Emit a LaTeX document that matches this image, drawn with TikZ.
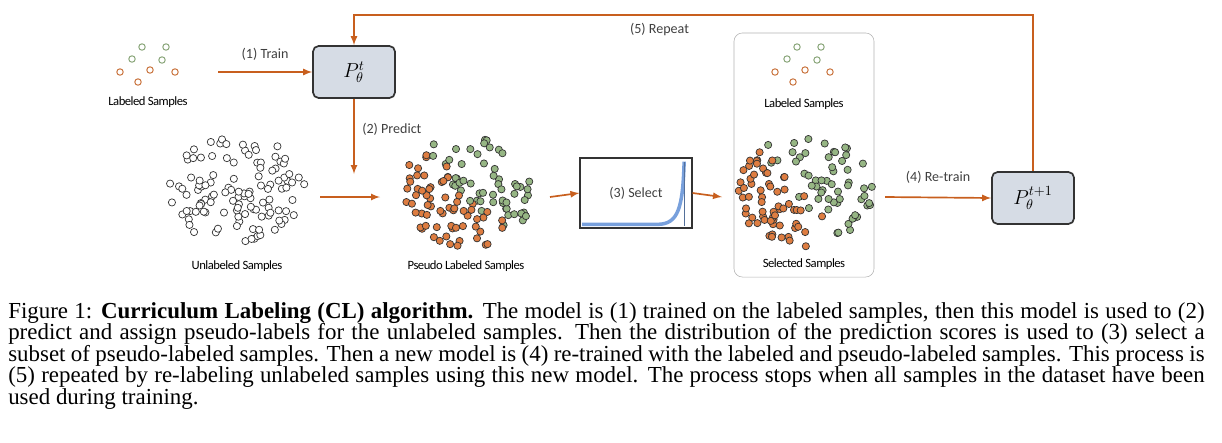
\documentclass[tikz,border=0pt]{standalone}
\usepackage{fontspec}
\setmainfont{Liberation Serif}
\newfontfamily\labelfont{Carlito}
\usetikzlibrary{positioning}
\definecolor{flow}{RGB}{200,95,30}
\definecolor{dotorange}{RGB}{222,125,65}
\definecolor{dotgreen}{RGB}{150,182,132}
\definecolor{modelfill}{RGB}{214,220,229}
\definecolor{curveblue}{RGB}{120,160,220}
\tikzset{
  flowarrow/.style={->, >=latex, very thick, draw=flow},
  model/.style={draw=black!80, very thick, rounded corners=4pt, fill=modelfill, minimum width=2.05cm, minimum height=1.3cm, font=\Large},
  steplabel/.style={font=\labelfont\normalsize, text=black!75},
  setlabel/.style={font=\labelfont\small\addfontfeatures{LetterSpace=-4}},
  dot/.style={draw=black!80, line width=0.5pt, fill=#1},
}
% scattered sample cloud: centre x, centre y, radius x, radius y, count, mode (0 white, 1 split)
\newcommand{\samplecloud}[6]{%
  \foreach \k in {1,...,#5}{%
    \pgfmathsetmacro{\ang}{rnd*360}%
    \pgfmathsetmacro{\rad}{sqrt(rnd)}%
    \pgfmathsetmacro{\px}{#1+#3*\rad*cos(\ang)}%
    \pgfmathsetmacro{\py}{#2+#4*\rad*sin(\ang)}%
    \pgfmathsetmacro{\side}{(\px-#1)+40*(rnd-0.5)-0.8*(\py-#2)}%
    \ifnum#6=0
      \fill[dot=white] (\px,\py) circle (3.6);
    \else
      \pgfmathparse{\side>0 ? 1 : 0}%
      \ifnum\pgfmathresult=1
        \fill[dot=dotgreen] (\px,\py) circle (3.6);
      \else
        \fill[dot=dotorange] (\px,\py) circle (3.6);
      \fi
    \fi
  }%
}
\newcommand{\fewsamples}[2]{%
  \foreach \dx/\dy/\c in {-30/10/dotorange,-18/-3/dotgreen,-8/-15/dotgreen,0/8/dotorange,12/-2/dotgreen,16/-15/dotgreen,25/10/dotorange,-12/20/dotorange}{%
    \draw[draw=\c!90!black, line width=0.7pt] (#1+\dx,#2+\dy) circle (3.2);
  }%
}
\begin{document}
\begin{tikzpicture}[x=0.025cm, y=-0.025cm]
  \useasboundingbox (0,0) rectangle (1222,442);
  \pgfmathsetseed{42}

  % selection panel
  \node[draw=black!30, rounded corners=6pt, minimum width=3.5cm, minimum height=6.1cm] (panel) at (804,155) {};

  % models
  \node[model] (mt) at (354,72) {$P_\theta^{t}$};
  \node[model] (mnext) at (1033,198) {$P_\theta^{t+1}$};

  % sample sets
  \fewsamples{150}{62}
  \node[setlabel] (lab) at (148,102) {Labeled Samples};
  \coordinate (labend) at (218,72);

  \samplecloud{237}{190}{68}{55}{115}{0}
  \node[setlabel] (unlab) at (237,266) {Unlabeled Samples};
  \coordinate (unlabend) at (320,197);

  \samplecloud{466}{192}{68}{56}{120}{1}
  \node[setlabel] (pseudo) at (466,266) {Pseudo Labeled Samples};
  \coordinate (pseudoin) at (380,197);
  \coordinate (pseudoout) at (550,197);

  % score distribution
  \node[draw=black!80, thick, minimum width=2.8cm, minimum height=1.75cm, steplabel] (sel) at (636,193) {(3) Select};
  \draw[curveblue, line width=2.5pt] ([xshift=2pt,yshift=3pt]sel.south west) -- ([xshift=-25pt,yshift=3pt]sel.south east) .. controls ([xshift=-10pt,yshift=3pt]sel.south east) and ([xshift=-7pt,yshift=15pt]sel.south east) .. ([xshift=-6pt,yshift=-3pt]sel.north east);
  \draw[curveblue!70!black, thick] ([xshift=-6pt,yshift=2pt]sel.south east) -- ([xshift=-6pt,yshift=-3pt]sel.north east);

  \fewsamples{805}{62}
  \node[setlabel] (lab2) at (804,104) {Labeled Samples};
  \samplecloud{805}{192}{68}{56}{120}{1}
  \node[setlabel] (selected) at (804,264) {Selected Samples};
  \coordinate (selin) at (722,197);
  \coordinate (selout) at (885,197);

  % arrows
  \draw[flowarrow] (labend) -- node[steplabel, above=4pt] {(1) Train} (mt.west);
  \draw[flowarrow] (mt.south) -- node[steplabel, right=2pt, pos=0.4] {(2) Predict} (mt.south |- 0,174);
  \draw[flowarrow] (unlabend) -- (pseudoin);
  \draw[flowarrow] (pseudoout) -- (sel.west);
  \draw[flowarrow] (sel.east) -- (selin);
  \draw[flowarrow] (selout) -- node[steplabel, above=6pt] {(4) Re-train} (mnext.west);
  \draw[flowarrow] (mnext.north) -- (mnext.north |- 0,15) -- node[steplabel, below=2pt, pos=0.55] {(5) Repeat} (mt.north |- 0,15) -- (mt.north);

  % caption
  \node[anchor=north west, text width=29.9cm, align=justify, inner sep=0pt, font=\fontsize{16.3}{15.3}\selectfont] (caption) at (8,302) {Figure 1: \textbf{Curriculum Labeling (CL) algorithm.} The model is (1) trained on the labeled samples, then this model is used to (2) predict and assign pseudo-labels for the unlabeled samples. Then the distribution of the prediction scores is used to (3) select a subset of pseudo-labeled samples. Then a new model is (4) re-trained with the labeled and pseudo-labeled samples. This process is (5) repeated by re-labeling unlabeled samples using this new model. The process stops when all samples in the dataset have been used during training.};
\end{tikzpicture}
\end{document}
